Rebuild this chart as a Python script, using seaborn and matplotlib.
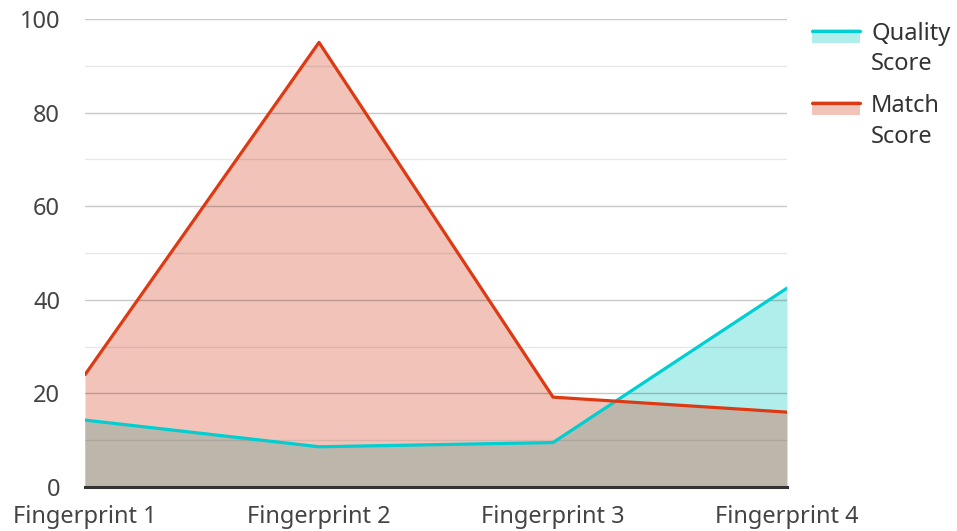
import numpy as np
import pandas as pd
import matplotlib
matplotlib.use("Agg")
import matplotlib.pyplot as plt
import seaborn as sns
from matplotlib.legend_handler import HandlerBase
from matplotlib.patches import Rectangle
from matplotlib.lines import Line2D

categories = ["Fingerprint 1", "Fingerprint 2", "Fingerprint 3", "Fingerprint 4"]
quality_score = [14.3, 8.6, 9.5, 42.5]
match_score = [24.0, 95.0, 19.2, 16.0]
y_ticks = [0, 20, 40, 60, 80, 100]

Q_LINE = "#00CED1"
Q_FILL = "#B0EEEC"
M_LINE = "#DD3A13"
M_FILL = "#F2C3B9"
OVERLAP = "#BDB6AB"

sns.set_theme(style="white")
plt.rcParams["font.family"] = ["Noto Sans", "DejaVu Sans"]

df = pd.DataFrame({
    "x": list(range(len(categories))) * 2,
    "value": quality_score + match_score,
    "series": ["Quality Score"] * len(categories) + ["Match Score"] * len(categories),
})

fig = plt.figure(figsize=(9.57, 5.31), dpi=100)
ax = fig.add_axes([85 / 957, 1 - 487 / 531, (787 - 85) / 957, (487 - 19) / 531])

x = np.arange(len(categories))
q = np.array(quality_score)
m = np.array(match_score)

qpoly = ax.fill_between(x, 0, q, color=Q_FILL, lw=0, zorder=1)
ax.fill_between(x, 0, m, color=M_FILL, lw=0, zorder=1.1)
ov = ax.fill_between(x, 0, m, color=OVERLAP, lw=0, zorder=1.2)
clip = qpoly.get_paths()[0]
ov.set_clip_path(clip, ax.transData)

sns.lineplot(data=df, x="x", y="value", hue="series",
             palette={"Quality Score": Q_LINE, "Match Score": M_LINE},
             hue_order=["Quality Score", "Match Score"],
             linewidth=2.3, ax=ax, legend=False, zorder=3)

ax.set_xlim(0, 3)
ax.set_ylim(0, 100)
ax.set_yticks(y_ticks)
ax.set_yticks([10, 30, 50, 70, 90], minor=True)
ax.set_xticks(x)
ax.set_xticklabels(categories)
ax.set_xlabel("")
ax.set_ylabel("")
ax.grid(axis="y", which="major", color="black", alpha=0.21, lw=1.0, zorder=2)
ax.grid(axis="y", which="minor", color="black", alpha=0.09, lw=1.0, zorder=2)
ax.set_axisbelow(False)
for s in ["top", "right", "left"]:
    ax.spines[s].set_visible(False)
ax.spines["bottom"].set_color("#333333")
ax.spines["bottom"].set_linewidth(2.2)
ax.spines["bottom"].set_zorder(4)
ax.tick_params(axis="both", which="both", length=0, labelsize=17, labelcolor="#444444")
ax.tick_params(axis="y", pad=18)
ax.tick_params(axis="x", pad=13)


class AreaHandler(HandlerBase):
    def __init__(self, line_color, fill_color):
        super().__init__()
        self.lc = line_color
        self.fc = fill_color

    def create_artists(self, legend, orig_handle, xdescent, ydescent, width, height, fontsize, trans):
        top = height + 9
        rect = Rectangle((-xdescent, -ydescent + top - 10), width, 10,
                         facecolor=self.fc, edgecolor="none", transform=trans)
        line = Line2D([-xdescent, -xdescent + width], [-ydescent + top - 1.2] * 2,
                      color=self.lc, lw=2.3, transform=trans)
        return [rect, line]


h1 = Line2D([], [])
h2 = Rectangle((0, 0), 1, 1)
leg = fig.legend([h1, h2], ["Quality\nScore", "Match\nScore"],
                 handler_map={h1: AreaHandler(Q_LINE, Q_FILL), h2: AreaHandler(M_LINE, M_FILL)},
                 loc="upper left", bbox_to_anchor=(812 / 957, 1 - 22 / 531),
                 frameon=False, fontsize=17, handlelength=2.05, handletextpad=0.45,
                 labelspacing=0.75, borderaxespad=0, borderpad=0)
for t in leg.get_texts():
    t.set_color("#333333")
    t.set_linespacing(1.36)

fig.savefig("out.png", dpi=100)
